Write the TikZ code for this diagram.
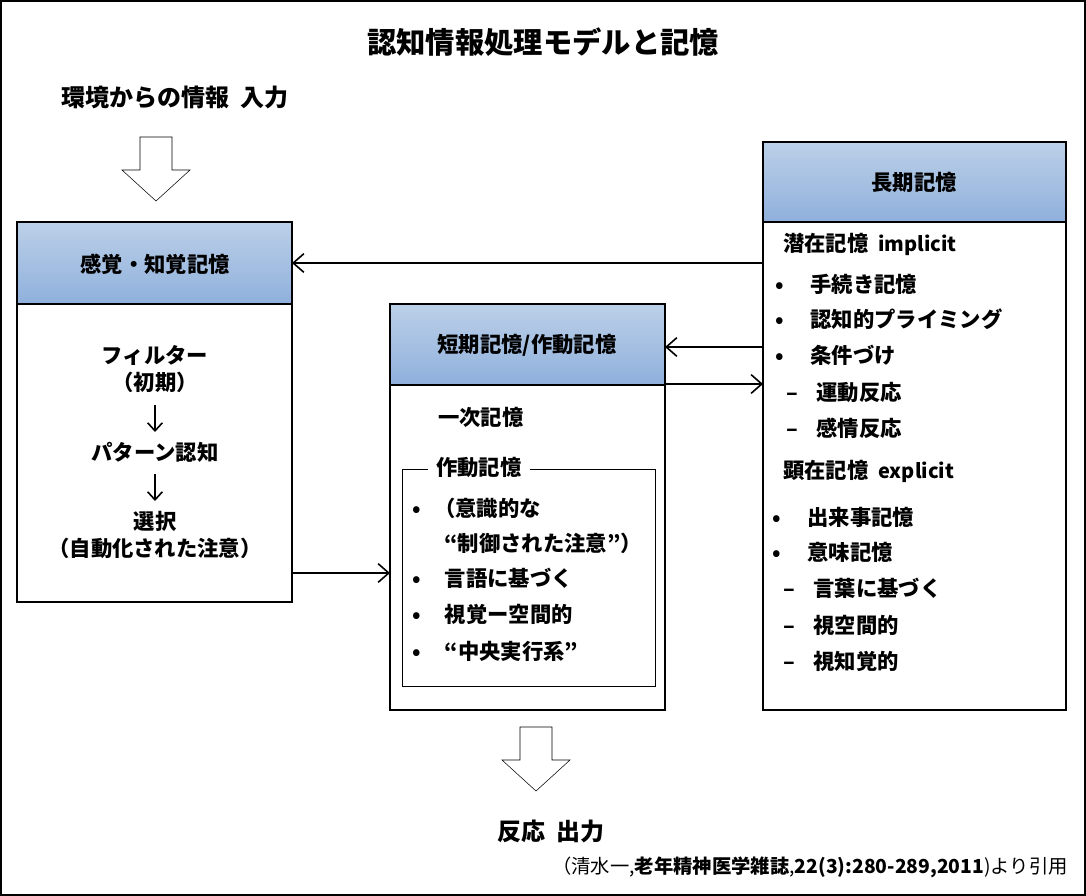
\documentclass[tikz,border=0pt]{standalone}
\usepackage{fontspec}
\setmainfont{Noto Sans CJK JP}
\usetikzlibrary{arrows.meta}
\usetikzlibrary{positioning}

\definecolor{headtop}{HTML}{BCD0E8}
\definecolor{headbot}{HTML}{8FB0DC}

\tikzset{
  box/.style={draw,thick,fill=white},
  head/.style={draw,thick,top color=headtop,bottom color=headbot},
  txt/.style={font=\fontsize{16}{20}\selectfont\bfseries,anchor=west,inner sep=0pt},
  ctxt/.style={font=\fontsize{16}{20}\selectfont\bfseries,align=center,inner sep=0pt},
  flow/.style={very thick,-{Straight Barb[length=8pt,width=14pt]}},
  blockarrow/.style={draw,fill=white,thin}
}

\begin{document}
\begin{tikzpicture}[x=0.75pt,y=-0.75pt]

  \draw[thick] (1,1) rectangle (1085,895);
  \useasboundingbox (0,0) rectangle (1086,896);

  \node[ctxt,font=\fontsize{22}{26}\selectfont\bfseries] (title) at (543,42) {認知情報処理モデルと記憶};
  \node[ctxt,font=\fontsize{18}{22}\selectfont\bfseries] (input) at (175,97) {環境からの情報\ \ 入力};
  \node[ctxt,font=\fontsize{18}{22}\selectfont\bfseries] (output) at (551,831) {反応\ \ 出力};
  \node[inner sep=0pt,anchor=east,font=\fontsize{14.5}{18}\selectfont] (cite) at (1068,867)
    {（清水一,\textit{\textbf{老年精神医学雑誌}},\textbf{22(3):280-289,2011})より引用};

  % block arrows
  \draw[blockarrow] (140,137) -- (172,137) -- (172,170) -- (190,170) -- (156,201)
    -- (122,170) -- (140,170) -- cycle;
  \draw[blockarrow] (520,727) -- (552,727) -- (552,760) -- (570,760) -- (536,791)
    -- (502,760) -- (520,760) -- cycle;

  % sensory memory
  \draw[box] (17,304) rectangle (292,602);
  \draw[head] (17,222) rectangle (292,304);
  \node[ctxt] (sensHead) at (155,264) {感覚・知覚記憶};
  \node[ctxt] (filter) at (155,369) {フィルター\\（初期）};
  \node[ctxt] (pattern) at (155,452) {パターン認知};
  \node[ctxt] (select) at (155,535) {選択\\（自動化された注意）};
  \draw[very thick,-{Straight Barb[length=6pt,width=11pt]}] (155,405) -- (155,432);
  \draw[very thick,-{Straight Barb[length=6pt,width=11pt]}] (155,474) -- (155,501);

  % short-term memory
  \draw[box] (390,385) rectangle (665,710);
  \draw[head] (390,304) rectangle (665,385);
  \node[ctxt] (stmHead) at (527,345) {短期記憶/作動記憶};
  \node[txt] (primary) at (438,417) {一次記憶};
  \draw[thin] (402,469) rectangle (655,686);
  \node[txt,fill=white,inner xsep=6pt] (wm) at (428,467) {作動記憶};
  \foreach \y/\t in {578/言語に基づく,614/視覚ー空間的,651/“中央実行系”}
    \node[txt] at (412,\y) {•\hspace{18pt}\t};
  \node[txt] at (412,508) {•\hspace{10pt}（意識的な};
  \node[txt] at (444,543) {“制御された注意”）};

  % long-term memory
  \draw[box] (763,222) rectangle (1066,710);
  \draw[head] (763,142) rectangle (1066,222);
  \node[ctxt] (ltmHead) at (914,182) {長期記憶};
  \node[txt] (implicit) at (783,244) {潜在記憶\ \ {\fontsize{15}{18}\selectfont implicit}};
  \node[txt] (explicit) at (783,471) {顕在記憶\ \ {\fontsize{15}{18}\selectfont explicit}};
  \foreach \y/\t in {284/手続き記憶,319/認知的プライミング,355/条件づけ}
    \node[txt] at (775,\y) {•\hspace{20pt}\t};
  \foreach \y/\t in {392/運動反応,428/感情反応}
    \node[txt] at (786,\y) {–\hspace{14pt}\t};
  \foreach \y/\t in {517/出来事記憶,552/意味記憶}
    \node[txt] at (772,\y) {•\hspace{20pt}\t};
  \foreach \y/\t in {588/言葉に基づく,625/視空間的,661/視知覚的}
    \node[txt] at (783,\y) {–\hspace{14pt}\t};

  % connectors
  \coordinate (ltmA) at (763,263);
  \coordinate (ltmB) at (763,347);
  \coordinate (ltmC) at (763,384);
  \coordinate (stmB) at (665,347);
  \coordinate (stmC) at (665,384);
  \coordinate (sensA) at (292,263);
  \coordinate (sensD) at (292,573);
  \coordinate (stmD) at (390,573);
  \draw[flow] (ltmA) -- (sensA);
  \draw[flow] (ltmB) -- (stmB);
  \draw[flow] (stmC) -- (ltmC);
  \draw[flow] (sensD) -- (stmD);

\end{tikzpicture}
\end{document}
